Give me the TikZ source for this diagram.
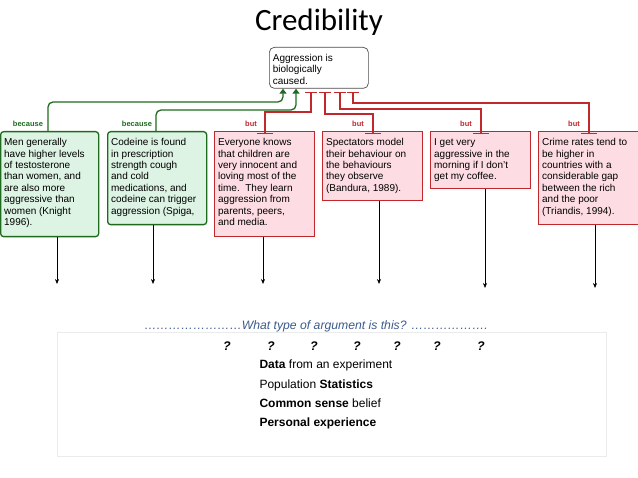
\documentclass[tikz,border=0pt]{standalone}
\usepackage{fontspec}
\setmainfont{Liberation Sans}
\newfontfamily\carl{Carlito}
\usetikzlibrary{arrows.meta}
\definecolor{gfill}{HTML}{DDF3E3}\definecolor{gline}{HTML}{1E6B1E}
\definecolor{rfill}{HTML}{FDDDE3}\definecolor{rline}{HTML}{C0282C}
\definecolor{qblue}{HTML}{3C5A8C}
\newcommand{\bx}[3]{\parbox[c][#2][t]{#1}{\raggedright\vspace*{3pt}#3}}
\begin{document}
\begin{tikzpicture}[x=1pt,y=-1pt,
 box/.style={draw,line width=1.3pt,anchor=north west,inner xsep=3.5pt,inner ysep=3pt,
   font=\fontsize{10}{11.4}\selectfont},
 pro/.style={box,draw=gline,fill=gfill,rounded corners=3pt},
 con/.style={box,draw=rline,fill=rfill},
 gl/.style={draw=gline,line width=1.3pt,-{Triangle[width=7pt,length=5pt]}},
 rl/.style={draw=rline,line width=1.3pt,{Bar[width=12pt]}-{Bar[width=16pt]}},
 lab/.style={font=\bfseries\fontsize{7.5}{8}\selectfont,anchor=base},
 dn/.style={draw,-{Stealth[length=5pt,width=4pt]},line width=0.6pt},
 btxt/.style={anchor=base west,font=\fontsize{12}{14}\selectfont}]
\useasboundingbox (0,0) rectangle (638,478);
\node[font=\carl\fontsize{31}{34}\selectfont] (title) at (319,22) {Credibility};
\node[box,draw=black!70,line width=0.7pt,fill=white,rounded corners=5pt] (root) at (269,47) {\bx{92pt}{35pt}{\strut Aggression is\\biologically\\caused.}};
\node[pro] (b1) at (0,131) {\bx{91pt}{99pt}{\strut Men generally\\have higher levels\\of testosterone\\than women, and\\are also more\\aggressive than\\women (Knight\\1996).}};
\node[pro] (b2) at (107,131) {\bx{92pt}{87pt}{\strut Codeine is found\\in prescription\\strength cough\\and cold\\medications, and\\codeine can trigger\\aggression (Spiga,}};
\node[con] (b3) at (214,131) {\bx{93pt}{99pt}{\strut Everyone knows\\that children are\\very innocent and\\loving most of the\\time.\ \ They learn\\aggression from\\parents, peers,\\and media.}};
\node[con] (b4) at (322,131) {\bx{93pt}{63pt}{\strut Spectators model\\their behaviour on\\the behaviours\\they observe\\(Bandura, 1989).}};
\node[con] (b5) at (430,131) {\bx{93pt}{51pt}{\strut I get very\\aggressive in the\\morning if I don't\\get my coffee.}};
\node[con] (b6) at (538,131) {\bx{95pt}{87pt}{\strut Crime rates tend to\\be higher in\\countries with a\\considerable gap\\between the rich\\and the poor\\(Triandis, 1994).}};
\node[lab,text=gline] (l1) at (28,127) {because};
\node[lab,text=gline] (l2) at (137,127) {because};
\node[lab,text=rline] (l3) at (251,127) {but};
\node[lab,text=rline] (l4) at (358,127) {but};
\node[lab,text=rline] (l5) at (466,127) {but};
\node[lab,text=rline] (l6) at (574,127) {but};
\draw[gl,rounded corners=5pt] (b1.north -| 48,0) |- (283,102) -- (root.south -| 283,0);
\draw[gl,rounded corners=5pt] (b2.north -| 156,0) |- (296,110) -- (root.south -| 296,0);
\draw[rl] ([yshift=-3pt]root.south -| 311,0) |- (265,112) -- ([yshift=-3pt]b3.north -| 265,0);
\draw[rl] ([yshift=-3pt]root.south -| 325,0) |- (373,114) -- ([yshift=-3pt]b4.north -| 373,0);
\draw[rl] ([yshift=-3pt]root.south -| 340,0) |- (481,109) -- ([yshift=-3pt]b5.north -| 481,0);
\draw[rl] ([yshift=-3pt]root.south -| 353,0) |- (589,103) -- ([yshift=-3pt]b6.north -| 589,0);
\coordinate (e1) at (57,284);\coordinate (e2) at (153,284);\coordinate (e3) at (263,284);
\coordinate (e4) at (379,284);\coordinate (e5) at (485,288);\coordinate (e6) at (595,288);
\draw[dn] (b1.south -| e1) -- (e1);\draw[dn] (b2.south -| e2) -- (e2);
\draw[dn] (b3.south -| e3) -- (e3);\draw[dn] (b4.south -| e4) -- (e4);
\draw[dn] (b5.south -| e5) -- (e5);\draw[dn] (b6.south -| e6) -- (e6);
\node[draw=black!8,line width=0.5pt,anchor=north west,minimum width=549pt,minimum height=124pt] (panel) at (57,332) {};
\node[font=\itshape\fontsize{12.2}{14}\selectfont,text=qblue] (q) at (316,326) {……………………What type of argument is this? ……………….};
\foreach \x [count=\i] in {227,271,314,357,397,437,481}
  \node[font=\bfseries\itshape\fontsize{12.5}{14}\selectfont] (qm\i) at (\x,346) {?};
\node[btxt] (t1) at (256,369) {\textbf{Data} from an experiment};
\node[btxt] (t2) at (256,389) {Population \textbf{Statistics}};
\node[btxt] (t3) at (256,408) {\textbf{Common sense} belief};
\node[btxt] (t4) at (256,427) {\textbf{Personal experience}};
\end{tikzpicture}
\end{document}
